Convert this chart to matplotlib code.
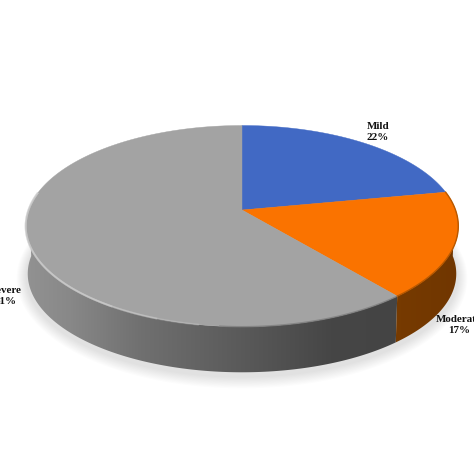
import numpy as np
import matplotlib
matplotlib.use("Agg")
import matplotlib.pyplot as plt
from matplotlib.patches import Polygon

categories = ["Mild", "Moderate", "Severe"]
shares = [22, 17, 61]
top_colors = ["#4169c4", "#fa7300", "#a3a3a3"]
label_pos = [(378, 132), (459, 325), (6, 296)]

# perspective of the disc, in pixels
CX, CY = 242, 210
A, B, K = 213.5, 98.0, 0.16
DEPTH = 48


def project(t, shrink=0.0, drop=0.0):
    # t is clockwise from 12 o'clock, radians
    x, y = np.sin(t), np.cos(t)
    w = 1 + K * y
    return CX + (A - shrink) * x / w, CY - (B - shrink) * y / w + drop


fig = plt.figure(figsize=(4.74, 4.74), dpi=100)
ax = fig.add_axes([0, 0, 1, 1])

edges = np.radians(np.cumsum([0] + shares) * 3.6)
circle = np.linspace(0, 2 * np.pi, 361)

# soft shadow under the disc
for i in range(10):
    sx, sy = project(circle, shrink=-1 * i, drop=DEPTH + 3)
    ax.add_patch(Polygon(np.c_[sx, sy], fc="black", ec="none", alpha=0.012, zorder=1))


def wall(t0, t1, shades, positions):
    # side wall piece: horizontal gradient clipped to the rim strip
    t = np.linspace(t0, t1, 200)
    tx, ty = project(t)
    bx, by = project(t[::-1], shrink=2, drop=DEPTH)
    patch = Polygon(np.c_[np.r_[tx, bx], np.r_[ty, by]], fc="none", ec="none")
    ax.add_patch(patch)
    xs = np.arange(0, 474)
    grad = np.array([np.interp(xs, positions, np.array(shades)[:, c]) for c in range(3)])
    img = ax.imshow(grad.T[None, :, :] / 255, extent=(0, 474, 474, 0), aspect="auto", zorder=2)
    img.set_clip_path(patch)


grey_shades = [(146, 146, 146), (136, 136, 136), (112, 112, 112), (90, 90, 90), (70, 70, 70), (68, 68, 68)]
wall(edges[2], 3 * np.pi / 2 + 0.02, grey_shades, [26, 70, 140, 240, 330, 400])
brown_shades = [(118, 58, 0), (112, 54, 0)]
wall(np.pi / 2 - 0.02, edges[2], brown_shades, [400, 460])

# top face
for i, name in enumerate(categories):
    t = np.linspace(edges[i], edges[i + 1], 200)
    px, py = project(t)
    ax.add_patch(Polygon(np.c_[np.r_[CX, px], np.r_[CY, py]], fc=top_colors[i], ec=top_colors[i],
                         lw=0.3, zorder=3))

# bright bevel on the front left of the grey part, dark rim on the right
for start, alpha in [(190, 0.3), (200, 0.4), (212, 0.5)]:
    t = np.linspace(np.radians(start), np.radians(280), 120)
    px, py = project(t)
    ax.plot(px, py, color="#cfcfcf", lw=1.4, alpha=alpha, zorder=4)
t = np.linspace(edges[2], np.radians(185), 60)
px, py = project(t)
ax.plot(px, py, color="#7d7d7d", lw=1.0, alpha=0.8, zorder=4)
t = np.linspace(edges[1], edges[2], 60)
px, py = project(t)
ax.plot(px, py, color="#b85800", lw=1.0, zorder=4)

for name, val, (lx, ly) in zip(categories, shares, label_pos):
    ax.text(lx, ly, f"{name}\n{val}%", ha="center", va="center", family="Liberation Serif",
            weight="bold", fontsize=7.9, linespacing=1.4, color="#111111", zorder=5)

ax.set_xlim(0, 474)
ax.set_ylim(474, 0)
ax.axis("off")
fig.savefig("out.png", dpi=100, facecolor="white")
